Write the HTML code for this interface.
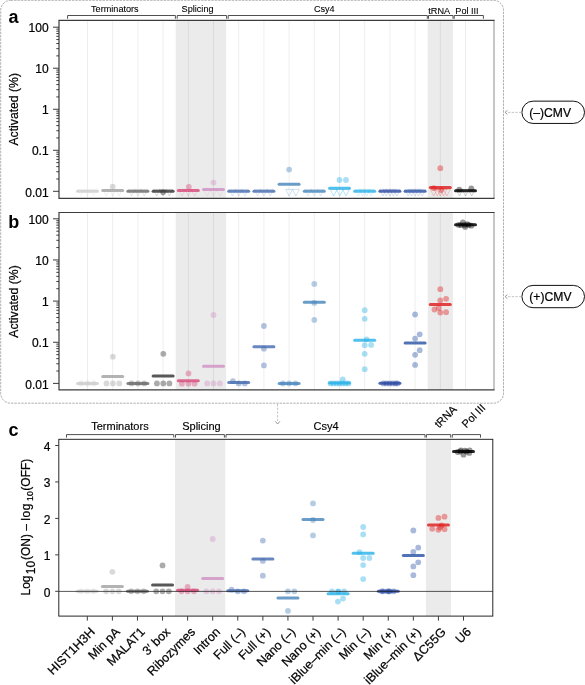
<!DOCTYPE html>
<html lang="en"><head><meta charset="utf-8"><title>Figure</title>
<style>
html,body{margin:0;padding:0;background:#fff;}
svg{display:block;}
text{font-family:"Liberation Sans",sans-serif;fill:#000;stroke:#000;stroke-width:0.22px;}
.pl{stroke-width:0;}
.t9{stroke-width:0.08px;}
.t11{stroke-width:0.15px;}
.t12{font-size:12px;}
.yl{font-size:12.2px;}
.t9{font-size:9.15px;}
.t125{font-size:12.5px;}
.t11{font-size:11px;}
.pl{font-size:18px;font-weight:bold;fill:#000;}
.cmv{font-size:13px;}
</style></head><body>
<svg width="585" height="685" viewBox="0 0 585 685">
<rect width="585" height="685" fill="#fff"/>
<rect x="0.7" y="0.3" width="502.8" height="402.9" rx="10" ry="10" fill="none" stroke="#7a7a7a" stroke-width="0.6" stroke-dasharray="2.4 1.0"/>
<rect x="175.7" y="20.4" width="50.4" height="177.9" fill="#ebebeb"/>
<rect x="427.7" y="20.4" width="25.2" height="177.9" fill="#ebebeb"/>
<path d="M87.5 20.4V198.3M112.7 20.4V198.3M137.9 20.4V198.3M163.1 20.4V198.3M188.3 20.4V198.3M213.5 20.4V198.3M238.7 20.4V198.3M263.9 20.4V198.3M289.1 20.4V198.3M314.3 20.4V198.3M339.5 20.4V198.3M364.7 20.4V198.3M389.9 20.4V198.3M415.1 20.4V198.3M440.3 20.4V198.3M465.5 20.4V198.3" stroke="#000" stroke-opacity="0.07" stroke-width="1" fill="none"/>
<path d="M77.8 189.4H84.6L81.2 196ZM84.1 189.4H90.9L87.5 196ZM90.4 189.4H97.2L93.8 196Z" stroke="#cccccc" stroke-opacity="0.25" stroke-width="0.7" fill="#fff" fill-opacity="0.0" stroke-linejoin="miter"/>
<path d="M103 189.4H109.8L106.4 196ZM109.3 189.4H116.1L112.7 196ZM115.6 189.4H122.4L119 196Z" stroke="#a0a0a0" stroke-opacity="0.25" stroke-width="0.7" fill="#fff" fill-opacity="0.0" stroke-linejoin="miter"/>
<path d="M128.2 189.4H135L131.6 196ZM134.5 189.4H141.3L137.9 196ZM140.8 189.4H147.6L144.2 196Z" stroke="#666666" stroke-opacity="0.25" stroke-width="0.7" fill="#fff" fill-opacity="0.0" stroke-linejoin="miter"/>
<path d="M153.4 189.4H160.2L156.8 196ZM159.7 189.4H166.5L163.1 196ZM166 189.4H172.8L169.4 196Z" stroke="#2e2e2e" stroke-opacity="0.25" stroke-width="0.7" fill="#fff" fill-opacity="0.0" stroke-linejoin="miter"/>
<path d="M178.6 189.4H185.4L182 196ZM184.9 189.4H191.7L188.3 196ZM191.2 189.4H198L194.6 196Z" stroke="#d84778" stroke-opacity="0.25" stroke-width="0.7" fill="#fff" fill-opacity="0.0" stroke-linejoin="miter"/>
<path d="M203.8 189.4H210.6L207.2 196ZM210.1 189.4H216.9L213.5 196ZM216.4 189.4H223.2L219.8 196Z" stroke="#cf90c4" stroke-opacity="0.25" stroke-width="0.7" fill="#fff" fill-opacity="0.0" stroke-linejoin="miter"/>
<path d="M229 189.4H235.8L232.4 196ZM235.3 189.4H242.1L238.7 196ZM241.6 189.4H248.4L245 196Z" stroke="#4269ae" stroke-opacity="0.25" stroke-width="0.7" fill="#fff" fill-opacity="0.0" stroke-linejoin="miter"/>
<path d="M254.2 189.4H261L257.6 196ZM260.5 189.4H267.3L263.9 196ZM266.8 189.4H273.6L270.2 196Z" stroke="#4269ae" stroke-opacity="0.25" stroke-width="0.7" fill="#fff" fill-opacity="0.0" stroke-linejoin="miter"/>
<path d="M285.7 189.4H292.5L289.1 196ZM292.5 189.4H299.3L295.9 196Z" stroke="#4583ba" stroke-opacity="0.36" stroke-width="0.7" fill="#fff" fill-opacity="0.0" stroke-linejoin="miter"/>
<path d="M304.6 189.4H311.4L308 196ZM310.9 189.4H317.7L314.3 196ZM317.2 189.4H324L320.6 196Z" stroke="#4583ba" stroke-opacity="0.25" stroke-width="0.7" fill="#fff" fill-opacity="0.0" stroke-linejoin="miter"/>
<path d="M330.3 189.4H337.1L333.7 196ZM336.4 189.4H343.2L339.8 196ZM342.6 189.4H349.4L346 196Z" stroke="#27b0e7" stroke-opacity="0.5" stroke-width="0.7" fill="#fff" fill-opacity="0.0" stroke-linejoin="miter"/>
<path d="M355 189.4H361.8L358.4 196ZM359.3 189.4H366.1L362.7 196ZM363.3 189.4H370.1L366.7 196ZM367.6 189.4H374.4L371 196Z" stroke="#27b0e7" stroke-opacity="0.25" stroke-width="0.7" fill="#fff" fill-opacity="0.0" stroke-linejoin="miter"/>
<path d="M379.5 189.4H386.3L382.9 196ZM383 189.4H389.8L386.4 196ZM386.5 189.4H393.3L389.9 196ZM390 189.4H396.8L393.4 196ZM393.5 189.4H400.3L396.9 196Z" stroke="#2846a0" stroke-opacity="0.25" stroke-width="0.7" fill="#fff" fill-opacity="0.0" stroke-linejoin="miter"/>
<path d="M404.7 189.4H411.5L408.1 196ZM408.2 189.4H415L411.6 196ZM411.7 189.4H418.5L415.1 196ZM415.2 189.4H422L418.6 196ZM418.7 189.4H425.5L422.1 196Z" stroke="#274fa4" stroke-opacity="0.25" stroke-width="0.7" fill="#fff" fill-opacity="0.0" stroke-linejoin="miter"/>
<path d="M430.3 189.4H437.1L433.7 196ZM436.9 189.4H443.7L440.3 196ZM440.2 189.4H447L443.6 196ZM443.5 189.4H450.3L446.9 196ZM433.9 189.4H440.7L437.3 196Z" stroke="#e01818" stroke-opacity="0.3" stroke-width="0.7" fill="#fff" fill-opacity="0.0" stroke-linejoin="miter"/>
<path d="M456.1 189.4H462.9L459.5 196ZM462.1 189.4H468.9L465.5 196ZM468.3 189.4H475.1L471.7 196Z" stroke="#000000" stroke-opacity="0.25" stroke-width="0.7" fill="#fff" fill-opacity="0.0" stroke-linejoin="miter"/>
<g fill="#a0a0a0" fill-opacity="0.4"><circle cx="112.7" cy="186.6" r="2.9"/></g>
<g fill="#2e2e2e" fill-opacity="0.4"><circle cx="163.1" cy="192.2" r="2.9"/></g>
<g fill="#d84778" fill-opacity="0.4"><circle cx="188.8" cy="186.8" r="2.9"/></g>
<g fill="#cf90c4" fill-opacity="0.4"><circle cx="213.5" cy="182.6" r="2.9"/></g>
<g fill="#4583ba" fill-opacity="0.4"><circle cx="289.1" cy="169.6" r="2.9"/></g>
<g fill="#27b0e7" fill-opacity="0.4"><circle cx="339.5" cy="180" r="2.9"/><circle cx="346" cy="180" r="2.9"/></g>
<g fill="#e01818" fill-opacity="0.4"><circle cx="440.3" cy="168.2" r="2.9"/><circle cx="433.9" cy="188.2" r="2.9"/><circle cx="441.1" cy="190" r="2.9"/></g>
<g fill="#000000" fill-opacity="0.4"><circle cx="459.3" cy="189.6" r="2.9"/><circle cx="471.3" cy="188.5" r="2.9"/></g>
<path d="M77.5 191.2H97.5" stroke="#cccccc" stroke-opacity="0.8" stroke-width="3" stroke-linecap="round" fill="none"/>
<path d="M102.7 190.4H122.7" stroke="#a0a0a0" stroke-opacity="0.8" stroke-width="3" stroke-linecap="round" fill="none"/>
<path d="M127.9 191.2H147.9" stroke="#666666" stroke-opacity="0.8" stroke-width="3" stroke-linecap="round" fill="none"/>
<path d="M153.1 191.2H173.1" stroke="#2e2e2e" stroke-opacity="0.8" stroke-width="3" stroke-linecap="round" fill="none"/>
<path d="M178.3 190.4H198.3" stroke="#d84778" stroke-opacity="0.8" stroke-width="3" stroke-linecap="round" fill="none"/>
<path d="M203.5 189.4H223.5" stroke="#cf90c4" stroke-opacity="0.8" stroke-width="3" stroke-linecap="round" fill="none"/>
<path d="M228.7 191.2H248.7" stroke="#4269ae" stroke-opacity="0.8" stroke-width="3" stroke-linecap="round" fill="none"/>
<path d="M253.9 191.2H273.9" stroke="#4269ae" stroke-opacity="0.8" stroke-width="3" stroke-linecap="round" fill="none"/>
<path d="M279.1 184.2H299.1" stroke="#4583ba" stroke-opacity="0.8" stroke-width="3" stroke-linecap="round" fill="none"/>
<path d="M304.3 191.2H324.3" stroke="#4583ba" stroke-opacity="0.8" stroke-width="3" stroke-linecap="round" fill="none"/>
<path d="M329.5 188.2H349.5" stroke="#27b0e7" stroke-opacity="0.8" stroke-width="3" stroke-linecap="round" fill="none"/>
<path d="M354.7 191.2H374.7" stroke="#27b0e7" stroke-opacity="0.8" stroke-width="3" stroke-linecap="round" fill="none"/>
<path d="M379.9 191.2H399.9" stroke="#2846a0" stroke-opacity="0.8" stroke-width="3" stroke-linecap="round" fill="none"/>
<path d="M405.1 191.2H425.1" stroke="#274fa4" stroke-opacity="0.8" stroke-width="3" stroke-linecap="round" fill="none"/>
<path d="M430.3 187.5H450.3" stroke="#e01818" stroke-opacity="0.8" stroke-width="3" stroke-linecap="round" fill="none"/>
<path d="M455.5 190.8H475.5" stroke="#000000" stroke-opacity="0.85" stroke-width="3" stroke-linecap="round" fill="none"/>
<path d="M494 20.4V198.3" stroke="#a8a8a8" stroke-width="1.3" fill="none"/>
<path d="M494 20.4H59V198.3H494" stroke="#3c3c3c" stroke-width="1.2" fill="none" stroke-linecap="square"/>
<path d="M59 27.2H53M59 68.23H53M59 109.26H53M59 150.29H53M59 191.32H53" stroke="#3c3c3c" stroke-width="1" fill="none"/>
<path d="M59 55.88H56.3M59 48.65H56.3M59 43.53H56.3M59 39.55H56.3M59 36.3H56.3M59 33.56H56.3M59 31.18H56.3M59 29.08H56.3M59 96.91H56.3M59 89.68H56.3M59 84.56H56.3M59 80.58H56.3M59 77.33H56.3M59 74.59H56.3M59 72.21H56.3M59 70.11H56.3M59 137.94H56.3M59 130.71H56.3M59 125.59H56.3M59 121.61H56.3M59 118.36H56.3M59 115.62H56.3M59 113.24H56.3M59 111.14H56.3M59 178.97H56.3M59 171.74H56.3M59 166.62H56.3M59 162.64H56.3M59 159.39H56.3M59 156.65H56.3M59 154.27H56.3M59 152.17H56.3" stroke="#2a2a2a" stroke-width="0.9" fill="none"/>
<text x="48.6" y="32.4" text-anchor="end" class="t12">100</text>
<text x="48.6" y="73.43" text-anchor="end" class="t12">10</text>
<text x="48.6" y="114.46" text-anchor="end" class="t12">1</text>
<text x="48.6" y="155.49" text-anchor="end" class="t12">0.1</text>
<text x="48.6" y="196.52" text-anchor="end" class="t12">0.01</text>
<rect x="175.7" y="212.5" width="50.4" height="177.3" fill="#ebebeb"/>
<rect x="427.7" y="212.5" width="25.2" height="177.3" fill="#ebebeb"/>
<path d="M87.5 212.5V389.8M112.7 212.5V389.8M137.9 212.5V389.8M163.1 212.5V389.8M188.3 212.5V389.8M213.5 212.5V389.8M238.7 212.5V389.8M263.9 212.5V389.8M289.1 212.5V389.8M314.3 212.5V389.8M339.5 212.5V389.8M364.7 212.5V389.8M389.9 212.5V389.8M415.1 212.5V389.8M440.3 212.5V389.8M465.5 212.5V389.8" stroke="#000" stroke-opacity="0.07" stroke-width="1" fill="none"/>
<g fill="#cccccc" fill-opacity="0.4"><circle cx="81.3" cy="383.4" r="2.9"/><circle cx="87.5" cy="383.4" r="2.9"/><circle cx="93.8" cy="383.4" r="2.9"/></g>
<g fill="#a0a0a0" fill-opacity="0.4"><circle cx="106.5" cy="383.4" r="2.9"/><circle cx="112.9" cy="383.4" r="2.9"/><circle cx="119.3" cy="383.4" r="2.9"/><circle cx="112.9" cy="356.7" r="2.9"/></g>
<g fill="#666666" fill-opacity="0.4"><circle cx="131.6" cy="383.4" r="2.9"/><circle cx="137.9" cy="383.4" r="2.9"/><circle cx="144.2" cy="383.4" r="2.9"/></g>
<g fill="#2e2e2e" fill-opacity="0.4"><circle cx="156.9" cy="383.4" r="2.9"/><circle cx="163.3" cy="383.4" r="2.9"/><circle cx="169.4" cy="383.4" r="2.9"/><circle cx="163.3" cy="353.8" r="2.9"/></g>
<g fill="#d84778" fill-opacity="0.4"><circle cx="181.9" cy="383.7" r="2.9"/><circle cx="188.5" cy="383.7" r="2.9"/><circle cx="194.6" cy="383.7" r="2.9"/><circle cx="188.5" cy="373.4" r="2.9"/></g>
<g fill="#cf90c4" fill-opacity="0.4"><circle cx="207.2" cy="383.4" r="2.9"/><circle cx="213.5" cy="383.4" r="2.9"/><circle cx="219.8" cy="383.4" r="2.9"/><circle cx="213.5" cy="315" r="2.9"/></g>
<g fill="#4269ae" fill-opacity="0.4"><circle cx="232.9" cy="381.2" r="2.9"/><circle cx="238.7" cy="383.4" r="2.9"/><circle cx="244.8" cy="383.4" r="2.9"/></g>
<g fill="#4269ae" fill-opacity="0.4"><circle cx="263.9" cy="326" r="2.9"/><circle cx="263.9" cy="348.7" r="2.9"/><circle cx="263.9" cy="365.4" r="2.9"/></g>
<g fill="#4583ba" fill-opacity="0.4"><circle cx="282.9" cy="383.4" r="2.9"/><circle cx="289.1" cy="383.4" r="2.9"/><circle cx="295.4" cy="383.4" r="2.9"/></g>
<g fill="#4583ba" fill-opacity="0.4"><circle cx="314.3" cy="283.9" r="2.9"/><circle cx="314.3" cy="302.9" r="2.9"/><circle cx="314.3" cy="319.9" r="2.9"/></g>
<g fill="#27b0e7" fill-opacity="0.4"><circle cx="330.5" cy="383.4" r="2.9"/><circle cx="333.5" cy="383.4" r="2.9"/><circle cx="336.5" cy="383.4" r="2.9"/><circle cx="339.5" cy="383.4" r="2.9"/><circle cx="342.5" cy="383.4" r="2.9"/><circle cx="345.5" cy="383.4" r="2.9"/><circle cx="348.5" cy="383.4" r="2.9"/><circle cx="342.7" cy="379.5" r="2.9"/></g>
<g fill="#27b0e7" fill-opacity="0.4"><circle cx="364.7" cy="310.2" r="2.9"/><circle cx="364.7" cy="318.8" r="2.9"/><circle cx="366.5" cy="339.3" r="2.9"/><circle cx="364.7" cy="345.2" r="2.9"/><circle cx="371.1" cy="344.9" r="2.9"/><circle cx="364.7" cy="353.8" r="2.9"/><circle cx="364.7" cy="369.2" r="2.9"/></g>
<g fill="#2846a0" fill-opacity="0.4"><circle cx="383.4" cy="383.4" r="2.9"/><circle cx="386.4" cy="383.4" r="2.9"/><circle cx="389.4" cy="383.4" r="2.9"/><circle cx="392.4" cy="383.4" r="2.9"/><circle cx="395.4" cy="383.4" r="2.9"/><circle cx="397.4" cy="383.4" r="2.9"/></g>
<g fill="#274fa4" fill-opacity="0.4"><circle cx="415.1" cy="314.5" r="2.9"/><circle cx="419.7" cy="334.3" r="2.9"/><circle cx="415.1" cy="338.6" r="2.9"/><circle cx="419.7" cy="350.2" r="2.9"/><circle cx="415.1" cy="354.8" r="2.9"/><circle cx="415.1" cy="364.9" r="2.9"/></g>
<g fill="#e01818" fill-opacity="0.4"><circle cx="440.3" cy="289.2" r="2.9"/><circle cx="446.1" cy="298.8" r="2.9"/><circle cx="440.3" cy="300.5" r="2.9"/><circle cx="434.5" cy="309.5" r="2.9"/><circle cx="438.8" cy="308" r="2.9"/><circle cx="446.1" cy="312.2" r="2.9"/><circle cx="440.3" cy="312.6" r="2.9"/></g>
<g fill="#000000" fill-opacity="0.4"><circle cx="458.7" cy="224.9" r="2.9"/><circle cx="462.9" cy="222.5" r="2.9"/><circle cx="465.2" cy="226.9" r="2.9"/><circle cx="467.2" cy="224.2" r="2.9"/><circle cx="471.3" cy="225.7" r="2.9"/><circle cx="464.5" cy="225" r="2.9"/><circle cx="468.7" cy="225" r="2.9"/><circle cx="461" cy="225.2" r="2.9"/></g>
<path d="M77.5 383.4H97.5" stroke="#cccccc" stroke-opacity="0.8" stroke-width="3" stroke-linecap="round" fill="none"/>
<path d="M102.7 376.6H122.7" stroke="#a0a0a0" stroke-opacity="0.8" stroke-width="3" stroke-linecap="round" fill="none"/>
<path d="M127.9 383.4H147.9" stroke="#666666" stroke-opacity="0.8" stroke-width="3" stroke-linecap="round" fill="none"/>
<path d="M153.1 376.1H173.1" stroke="#2e2e2e" stroke-opacity="0.8" stroke-width="3" stroke-linecap="round" fill="none"/>
<path d="M178.3 380.8H198.3" stroke="#d84778" stroke-opacity="0.8" stroke-width="3" stroke-linecap="round" fill="none"/>
<path d="M203.5 366.2H223.5" stroke="#cf90c4" stroke-opacity="0.8" stroke-width="3" stroke-linecap="round" fill="none"/>
<path d="M228.7 382.6H248.7" stroke="#4269ae" stroke-opacity="0.8" stroke-width="3" stroke-linecap="round" fill="none"/>
<path d="M253.9 346.8H273.9" stroke="#4269ae" stroke-opacity="0.8" stroke-width="3" stroke-linecap="round" fill="none"/>
<path d="M279.1 383.4H299.1" stroke="#4583ba" stroke-opacity="0.8" stroke-width="3" stroke-linecap="round" fill="none"/>
<path d="M304.3 302.3H324.3" stroke="#4583ba" stroke-opacity="0.8" stroke-width="3" stroke-linecap="round" fill="none"/>
<path d="M329.5 383H349.5" stroke="#27b0e7" stroke-opacity="0.8" stroke-width="3" stroke-linecap="round" fill="none"/>
<path d="M354.7 340.3H374.7" stroke="#27b0e7" stroke-opacity="0.8" stroke-width="3" stroke-linecap="round" fill="none"/>
<path d="M379.9 383.2H399.9" stroke="#2846a0" stroke-opacity="0.8" stroke-width="3" stroke-linecap="round" fill="none"/>
<path d="M405.1 343H425.1" stroke="#274fa4" stroke-opacity="0.8" stroke-width="3" stroke-linecap="round" fill="none"/>
<path d="M430.3 304.4H450.3" stroke="#e01818" stroke-opacity="0.8" stroke-width="3" stroke-linecap="round" fill="none"/>
<path d="M455.5 224.8H475.5" stroke="#000000" stroke-opacity="0.85" stroke-width="3" stroke-linecap="round" fill="none"/>
<path d="M494 212.5V389.8" stroke="#a8a8a8" stroke-width="1.3" fill="none"/>
<path d="M494 212.5H59V389.8H494" stroke="#3c3c3c" stroke-width="1.2" fill="none" stroke-linecap="square"/>
<path d="M59 218.8H53M59 259.95H53M59 301.1H53M59 342.25H53M59 383.4H53" stroke="#3c3c3c" stroke-width="1" fill="none"/>
<path d="M59 247.56H56.3M59 240.32H56.3M59 235.18H56.3M59 231.19H56.3M59 227.93H56.3M59 225.17H56.3M59 222.79H56.3M59 220.68H56.3M59 288.71H56.3M59 281.47H56.3M59 276.33H56.3M59 272.34H56.3M59 269.08H56.3M59 266.32H56.3M59 263.94H56.3M59 261.83H56.3M59 329.86H56.3M59 322.62H56.3M59 317.48H56.3M59 313.49H56.3M59 310.23H56.3M59 307.47H56.3M59 305.09H56.3M59 302.98H56.3M59 371.01H56.3M59 363.77H56.3M59 358.63H56.3M59 354.64H56.3M59 351.38H56.3M59 348.62H56.3M59 346.24H56.3M59 344.13H56.3" stroke="#2a2a2a" stroke-width="0.9" fill="none"/>
<text x="48.6" y="224" text-anchor="end" class="t12">100</text>
<text x="48.6" y="265.15" text-anchor="end" class="t12">10</text>
<text x="48.6" y="306.3" text-anchor="end" class="t12">1</text>
<text x="48.6" y="347.45" text-anchor="end" class="t12">0.1</text>
<text x="48.6" y="388.6" text-anchor="end" class="t12">0.01</text>
<rect x="175.08" y="439.3" width="50.16" height="176.8" fill="#ebebeb"/>
<rect x="425.88" y="439.3" width="25.08" height="176.8" fill="#ebebeb"/>
<g fill="#cccccc" fill-opacity="0.4"><circle cx="80.9" cy="591.3" r="2.9"/><circle cx="87.3" cy="591.3" r="2.9"/><circle cx="93.6" cy="591.3" r="2.9"/></g>
<g fill="#a0a0a0" fill-opacity="0.4"><circle cx="106.08" cy="591.3" r="2.9"/><circle cx="112.38" cy="591.3" r="2.9"/><circle cx="118.68" cy="591.3" r="2.9"/><circle cx="112.38" cy="571.8" r="2.9"/></g>
<g fill="#666666" fill-opacity="0.4"><circle cx="131.16" cy="591.3" r="2.9"/><circle cx="137.46" cy="591.3" r="2.9"/><circle cx="143.76" cy="591.3" r="2.9"/></g>
<g fill="#2e2e2e" fill-opacity="0.4"><circle cx="156.24" cy="591.3" r="2.9"/><circle cx="162.54" cy="591.3" r="2.9"/><circle cx="168.84" cy="591.3" r="2.9"/><circle cx="162.54" cy="565.4" r="2.9"/></g>
<g fill="#d84778" fill-opacity="0.4"><circle cx="181.42" cy="591.3" r="2.9"/><circle cx="187.62" cy="591.3" r="2.9"/><circle cx="193.92" cy="591.3" r="2.9"/><circle cx="187.62" cy="586.8" r="2.9"/></g>
<g fill="#cf90c4" fill-opacity="0.4"><circle cx="206.4" cy="591.3" r="2.9"/><circle cx="212.7" cy="591.3" r="2.9"/><circle cx="219" cy="591.3" r="2.9"/><circle cx="212.7" cy="539" r="2.9"/></g>
<g fill="#4269ae" fill-opacity="0.4"><circle cx="231.58" cy="589.6" r="2.9"/><circle cx="237.78" cy="591.3" r="2.9"/><circle cx="243.98" cy="591.3" r="2.9"/></g>
<g fill="#4269ae" fill-opacity="0.4"><circle cx="262.86" cy="540.6" r="2.9"/><circle cx="262.86" cy="560.9" r="2.9"/><circle cx="262.86" cy="575.7" r="2.9"/></g>
<g fill="#4583ba" fill-opacity="0.4"><circle cx="287.94" cy="591.3" r="2.9"/><circle cx="294.34" cy="591.3" r="2.9"/><circle cx="287.94" cy="610.9" r="2.9"/></g>
<g fill="#4583ba" fill-opacity="0.4"><circle cx="313.02" cy="503.4" r="2.9"/><circle cx="313.02" cy="520" r="2.9"/><circle cx="313.02" cy="535.4" r="2.9"/></g>
<g fill="#27b0e7" fill-opacity="0.4"><circle cx="332" cy="591.3" r="2.9"/><circle cx="338.1" cy="591.3" r="2.9"/><circle cx="344.1" cy="591.3" r="2.9"/><circle cx="338.3" cy="591.7" r="2.9"/><circle cx="343" cy="598.6" r="2.9"/><circle cx="337.9" cy="601.6" r="2.9"/></g>
<g fill="#27b0e7" fill-opacity="0.4"><circle cx="363.18" cy="527" r="2.9"/><circle cx="363.18" cy="534.4" r="2.9"/><circle cx="359.48" cy="552.2" r="2.9"/><circle cx="363.18" cy="558" r="2.9"/><circle cx="369.38" cy="558" r="2.9"/><circle cx="363.18" cy="565.1" r="2.9"/><circle cx="363.18" cy="579.1" r="2.9"/></g>
<g fill="#2846a0" fill-opacity="0.4"><circle cx="381.76" cy="591.3" r="2.9"/><circle cx="387.26" cy="591.3" r="2.9"/><circle cx="388.76" cy="591.3" r="2.9"/><circle cx="393.76" cy="591.3" r="2.9"/><circle cx="383.26" cy="591.3" r="2.9"/><circle cx="389.76" cy="591.3" r="2.9"/></g>
<g fill="#274fa4" fill-opacity="0.4"><circle cx="413.34" cy="530.5" r="2.9"/><circle cx="418.24" cy="547.7" r="2.9"/><circle cx="413.34" cy="551.8" r="2.9"/><circle cx="418.24" cy="562.3" r="2.9"/><circle cx="413.34" cy="566.4" r="2.9"/><circle cx="413.34" cy="575.2" r="2.9"/></g>
<g fill="#e01818" fill-opacity="0.4"><circle cx="438.42" cy="517.9" r="2.9"/><circle cx="444.52" cy="516.7" r="2.9"/><circle cx="432.22" cy="528.8" r="2.9"/><circle cx="438.42" cy="529.8" r="2.9"/><circle cx="444.52" cy="529.2" r="2.9"/><circle cx="441.52" cy="525.5" r="2.9"/><circle cx="439.92" cy="527.5" r="2.9"/></g>
<g fill="#000000" fill-opacity="0.4"><circle cx="457.7" cy="452" r="2.9"/><circle cx="460.9" cy="450.3" r="2.9"/><circle cx="463.5" cy="454.7" r="2.9"/><circle cx="464.9" cy="450.7" r="2.9"/><circle cx="469.7" cy="450.3" r="2.9"/><circle cx="469.3" cy="452.9" r="2.9"/><circle cx="460.5" cy="451.5" r="2.9"/><circle cx="466.5" cy="451.5" r="2.9"/></g>
<path d="M77.3 591.3H97.3" stroke="#cccccc" stroke-opacity="0.8" stroke-width="3" stroke-linecap="round" fill="none"/>
<path d="M102.38 586.6H122.38" stroke="#a0a0a0" stroke-opacity="0.8" stroke-width="3" stroke-linecap="round" fill="none"/>
<path d="M127.46 591.3H147.46" stroke="#666666" stroke-opacity="0.8" stroke-width="3" stroke-linecap="round" fill="none"/>
<path d="M152.54 584.9H172.54" stroke="#2e2e2e" stroke-opacity="0.8" stroke-width="3" stroke-linecap="round" fill="none"/>
<path d="M177.62 590.3H197.62" stroke="#d84778" stroke-opacity="0.8" stroke-width="3" stroke-linecap="round" fill="none"/>
<path d="M202.7 578.4H222.7" stroke="#cf90c4" stroke-opacity="0.8" stroke-width="3" stroke-linecap="round" fill="none"/>
<path d="M227.78 590.7H247.78" stroke="#4269ae" stroke-opacity="0.8" stroke-width="3" stroke-linecap="round" fill="none"/>
<path d="M252.86 559.1H272.86" stroke="#4269ae" stroke-opacity="0.8" stroke-width="3" stroke-linecap="round" fill="none"/>
<path d="M277.94 598H297.94" stroke="#4583ba" stroke-opacity="0.8" stroke-width="3" stroke-linecap="round" fill="none"/>
<path d="M303.02 519.4H323.02" stroke="#4583ba" stroke-opacity="0.8" stroke-width="3" stroke-linecap="round" fill="none"/>
<path d="M328.1 593.8H348.1" stroke="#27b0e7" stroke-opacity="0.8" stroke-width="3" stroke-linecap="round" fill="none"/>
<path d="M353.18 553.2H373.18" stroke="#27b0e7" stroke-opacity="0.8" stroke-width="3" stroke-linecap="round" fill="none"/>
<path d="M378.26 591.3H398.26" stroke="#2846a0" stroke-opacity="0.8" stroke-width="3" stroke-linecap="round" fill="none"/>
<path d="M403.34 555.5H423.34" stroke="#274fa4" stroke-opacity="0.8" stroke-width="3" stroke-linecap="round" fill="none"/>
<path d="M428.42 524.9H448.42" stroke="#e01818" stroke-opacity="0.8" stroke-width="3" stroke-linecap="round" fill="none"/>
<path d="M453.5 451.4H473.5" stroke="#000000" stroke-opacity="0.85" stroke-width="3" stroke-linecap="round" fill="none"/>
<path d="M58.8 591.4H492.8" stroke="#1e1e1e" stroke-width="0.75" fill="none"/>
<rect x="58.8" y="439.3" width="434" height="176.8" fill="none" stroke="#1c1c1c" stroke-width="0.95"/>
<path d="M58.8 591.3H55.2M58.8 554.85H55.2M58.8 518.4H55.2M58.8 481.95H55.2M58.8 445.5H55.2M87.3 616.1V620.6M112.38 616.1V620.6M137.46 616.1V620.6M162.54 616.1V620.6M187.62 616.1V620.6M212.7 616.1V620.6M237.78 616.1V620.6M262.86 616.1V620.6M287.94 616.1V620.6M313.02 616.1V620.6M338.1 616.1V620.6M363.18 616.1V620.6M388.26 616.1V620.6M413.34 616.1V620.6M438.42 616.1V620.6M463.5 616.1V620.6" stroke="#3c3c3c" stroke-width="1" fill="none"/>
<text x="50.4" y="596.5" text-anchor="end" class="t12">0</text>
<text x="50.4" y="560.05" text-anchor="end" class="t12">1</text>
<text x="50.4" y="523.6" text-anchor="end" class="t12">2</text>
<text x="50.4" y="487.15" text-anchor="end" class="t12">3</text>
<text x="50.4" y="450.7" text-anchor="end" class="t12">4</text>
<text transform="translate(89.3 626.4) rotate(-45)" x="0" y="8.9" text-anchor="end" class="t125">HIST1H3H</text>
<text transform="translate(114.38 626.4) rotate(-45)" x="0" y="8.9" text-anchor="end" class="t125">Min pA</text>
<text transform="translate(139.46 626.4) rotate(-45)" x="0" y="8.9" text-anchor="end" class="t125">MALAT1</text>
<text transform="translate(164.54 626.4) rotate(-45)" x="0" y="8.9" text-anchor="end" class="t125">3′ box</text>
<text transform="translate(189.62 626.4) rotate(-45)" x="0" y="8.9" text-anchor="end" class="t125">Ribozymes</text>
<text transform="translate(214.7 626.4) rotate(-45)" x="0" y="8.9" text-anchor="end" class="t125">Intron</text>
<text transform="translate(239.78 626.4) rotate(-45)" x="0" y="8.9" text-anchor="end" class="t125">Full (–)</text>
<text transform="translate(264.86 626.4) rotate(-45)" x="0" y="8.9" text-anchor="end" class="t125">Full (+)</text>
<text transform="translate(289.94 626.4) rotate(-45)" x="0" y="8.9" text-anchor="end" class="t125">Nano (–)</text>
<text transform="translate(315.02 626.4) rotate(-45)" x="0" y="8.9" text-anchor="end" class="t125">Nano (+)</text>
<text transform="translate(340.1 626.4) rotate(-45)" x="0" y="8.9" text-anchor="end" class="t125">iBlue–min (–)</text>
<text transform="translate(365.18 626.4) rotate(-45)" x="0" y="8.9" text-anchor="end" class="t125">Min (–)</text>
<text transform="translate(390.26 626.4) rotate(-45)" x="0" y="8.9" text-anchor="end" class="t125">Min (+)</text>
<text transform="translate(415.34 626.4) rotate(-45)" x="0" y="8.9" text-anchor="end" class="t125">iBlue–min (+)</text>
<text transform="translate(440.42 626.4) rotate(-45)" x="0" y="8.9" text-anchor="end" class="t125">ΔC55G</text>
<text transform="translate(465.5 626.4) rotate(-45)" x="0" y="8.9" text-anchor="end" class="t125">U6</text>
<path d="M67.6 18.8V15.5H175.4V18.8" stroke="#3c3c3c" stroke-width="0.9" fill="none"/>
<text x="91" y="12" class="t9">Terminators</text>
<path d="M177.2 18.8V15.5H226.6V18.8" stroke="#3c3c3c" stroke-width="0.9" fill="none"/>
<text x="181.6" y="12" class="t9">Splicing</text>
<path d="M228.2 18.8V15.5H427.3V18.8" stroke="#3c3c3c" stroke-width="0.9" fill="none"/>
<text x="313.9" y="12" class="t9">Csy4</text>
<path d="M428.5 18.8V15.5H453V18.8" stroke="#3c3c3c" stroke-width="0.9" fill="none"/>
<text x="428.3" y="14" class="t9">tRNA</text>
<path d="M454.2 18.8V15.5H483.4V18.8" stroke="#3c3c3c" stroke-width="0.9" fill="none"/>
<text x="455.3" y="14" class="t9">Pol III</text>
<path d="M66.5 437.6V434.6H173.8V437.6" stroke="#3c3c3c" stroke-width="0.9" fill="none"/>
<text x="91.2" y="430" class="t11">Terminators</text>
<path d="M175.5 437.6V434.6H224.4V437.6" stroke="#3c3c3c" stroke-width="0.9" fill="none"/>
<text x="182.2" y="430" class="t11">Splicing</text>
<path d="M226 437.6V434.6H425V437.6" stroke="#3c3c3c" stroke-width="0.9" fill="none"/>
<text x="313.6" y="430" class="t11">Csy4</text>
<path d="M426.4 437.6V434.6H450.7V437.6" stroke="#3c3c3c" stroke-width="0.9" fill="none"/>
<path d="M452.3 437.6V434.6H480.5V437.6" stroke="#3c3c3c" stroke-width="0.9" fill="none"/>
<text transform="translate(438.9 428.6) rotate(-45)" class="t11">tRNA</text>
<text transform="translate(466.2 428.4) rotate(-45)" class="t11">Pol III</text>
<text transform="translate(17.5 109.3) rotate(-90)" text-anchor="middle" class="yl">Activated (%)</text>
<text transform="translate(17.5 301.5) rotate(-90)" text-anchor="middle" class="yl">Activated (%)</text>
<text transform="translate(29.7 0) rotate(-90)" class="t12"><tspan x="-595.5" y="0">Log</tspan><tspan x="-574.3" y="5.0" font-size="12">10</tspan><tspan x="-560.0" y="0">(ON) –</tspan><tspan x="-520.7" y="0" letter-spacing="0.5">log</tspan><tspan x="-500.9" y="3.4" font-size="8.8">10</tspan><tspan x="-490.7" y="0">(OFF)</tspan></text>
<text x="8.6" y="23.1" class="pl">a</text>
<text x="8.2" y="228.2" class="pl">b</text>
<text x="8.6" y="435.8" class="pl">c</text>
<rect x="521.9" y="101.15" width="62.6" height="22.3" rx="11.15" ry="11.15" fill="#fff" stroke="#111" stroke-width="1"/>
<text x="529.3" y="116.6" class="cmv" textLength="41.7" lengthAdjust="spacingAndGlyphs">(–)CMV</text>
<path d="M521.4 112.4H507" stroke="#b5b5b5" stroke-width="0.8" stroke-dasharray="2.3 1.4" fill="none"/>
<path d="M507.4 110.4L505 112.4L507.4 114.4" stroke="#6e6e6e" stroke-width="0.7" fill="none"/>
<rect x="521.9" y="285.4" width="62.6" height="22.3" rx="11.15" ry="11.15" fill="#fff" stroke="#111" stroke-width="1"/>
<text x="529.3" y="300.85" class="cmv" textLength="42.2" lengthAdjust="spacingAndGlyphs">(+)CMV</text>
<path d="M521.4 296.65H507" stroke="#b5b5b5" stroke-width="0.8" stroke-dasharray="2.3 1.4" fill="none"/>
<path d="M507.4 294.65L505 296.65L507.4 298.65" stroke="#6e6e6e" stroke-width="0.7" fill="none"/>
<path d="M277.6 404V421" stroke="#b5b5b5" stroke-width="0.8" stroke-dasharray="2.3 1.4" fill="none"/>
<path d="M275.3 421.3L277.6 424L279.9 421.3" stroke="#6e6e6e" stroke-width="0.7" fill="none"/>
</svg>
</body></html>
